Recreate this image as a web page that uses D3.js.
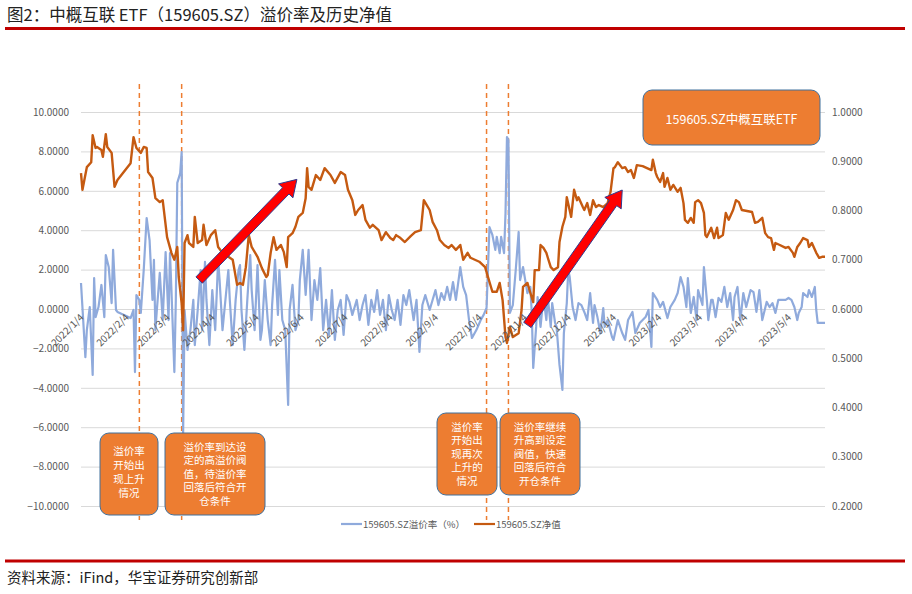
<!DOCTYPE html>
<html><head><meta charset="utf-8">
<script src="https://cdn.jsdelivr.net/npm/d3@7"></script>
<style>
body{margin:0;background:#fff;}
svg text{font-family:"Noto Sans CJK SC","Noto Sans",sans-serif;}
</style></head><body>
<svg id="c" width="912" height="594"></svg>
<script>
// ---------- data ----------
const navDates=["2022-01-04","2022-01-05","2022-01-08","2022-01-11","2022-01-12","2022-01-14","2022-01-15","2022-01-18","2022-01-19","2022-01-21","2022-01-22","2022-01-25","2022-01-27","2022-01-29","2022-02-07","2022-02-09","2022-02-11","2022-02-14","2022-02-16","2022-02-18","2022-02-19","2022-02-22","2022-02-24","2022-02-27","2022-03-01","2022-03-04","2022-03-07","2022-03-09","2022-03-11","2022-03-12","2022-03-14","2022-03-15","2022-03-16","2022-03-18","2022-03-19","2022-03-22","2022-03-23","2022-03-25","2022-03-28","2022-03-29","2022-03-31","2022-04-03","2022-04-06","2022-04-08","2022-04-11","2022-04-15","2022-04-18","2022-04-21","2022-04-23","2022-04-25","2022-04-27","2022-04-29","2022-05-01","2022-05-05","2022-05-08","2022-05-11","2022-05-12","2022-05-14","2022-05-16","2022-05-18","2022-05-21","2022-05-23","2022-05-25","2022-05-26","2022-05-29","2022-05-31","2022-06-02","2022-06-05","2022-06-07","2022-06-08","2022-06-09","2022-06-11","2022-06-14","2022-06-17","2022-06-20","2022-06-24","2022-06-27","2022-07-01","2022-07-04","2022-07-06","2022-07-09","2022-07-11","2022-07-13","2022-07-16","2022-07-18","2022-07-21","2022-07-23","2022-07-27","2022-07-29","2022-08-01","2022-08-04","2022-08-06","2022-08-08","2022-08-11","2022-08-14","2022-08-18","2022-08-21","2022-08-25","2022-08-27","2022-08-29","2022-08-31","2022-09-02","2022-09-05","2022-09-07","2022-09-10","2022-09-13","2022-09-15","2022-09-18","2022-09-21","2022-09-23","2022-09-26","2022-09-28","2022-10-04","2022-10-08","2022-10-10","2022-10-13","2022-10-16","2022-10-18","2022-10-20","2022-10-22","2022-10-23","2022-10-25","2022-10-27","2022-10-31","2022-11-02","2022-11-03","2022-11-06","2022-11-08","2022-11-10","2022-11-11","2022-11-14","2022-11-15","2022-11-17","2022-11-19","2022-11-20","2022-11-22","2022-11-24","2022-11-27","2022-11-28","2022-11-30","2022-12-02","2022-12-03","2022-12-06","2022-12-08","2022-12-10","2022-12-11","2022-12-14","2022-12-15","2022-12-17","2022-12-19","2022-12-21","2022-12-23","2022-12-25","2022-12-28","2022-12-31","2023-01-02","2023-01-04","2023-01-05","2023-01-07","2023-01-10","2023-01-12","2023-01-14","2023-01-16","2023-01-18","2023-01-20","2023-01-24","2023-01-27","2023-01-30","2023-01-31","2023-02-02","2023-02-03","2023-02-05","2023-02-07","2023-02-08","2023-02-10","2023-02-12","2023-02-14","2023-02-17","2023-02-19","2023-02-21","2023-02-22","2023-02-24","2023-02-26","2023-02-28","2023-03-01","2023-03-03","2023-03-05","2023-03-07","2023-03-08","2023-03-09","2023-03-12","2023-03-14","2023-03-16","2023-03-17","2023-03-20","2023-03-22","2023-03-24","2023-03-27","2023-03-29","2023-03-31","2023-04-02","2023-04-09","2023-04-11","2023-04-13","2023-04-16","2023-04-18","2023-04-20","2023-04-22","2023-04-24","2023-04-25","2023-04-28","2023-05-02","2023-05-04","2023-05-07","2023-05-08","2023-05-10","2023-05-12","2023-05-14","2023-05-17","2023-05-18","2023-05-20","2023-05-23","2023-05-25","2023-05-27","2023-05-29"];
const navValues=[0.876,0.842,0.888,0.898,0.953,0.927,0.929,0.923,0.909,0.955,0.929,0.917,0.848,0.862,0.896,0.949,0.927,0.917,0.929,0.927,0.878,0.866,0.825,0.817,0.821,0.746,0.714,0.700,0.726,0.665,0.612,0.557,0.734,0.750,0.734,0.726,0.787,0.734,0.740,0.771,0.730,0.750,0.760,0.726,0.714,0.706,0.700,0.649,0.653,0.649,0.685,0.750,0.726,0.706,0.683,0.665,0.669,0.714,0.746,0.720,0.730,0.716,0.685,0.746,0.754,0.767,0.787,0.795,0.825,0.886,0.848,0.842,0.872,0.862,0.886,0.872,0.856,0.878,0.872,0.842,0.821,0.791,0.801,0.811,0.781,0.765,0.771,0.760,0.740,0.756,0.744,0.740,0.750,0.744,0.736,0.748,0.756,0.760,0.821,0.811,0.801,0.777,0.760,0.740,0.730,0.724,0.730,0.720,0.730,0.700,0.714,0.704,0.696,0.685,0.665,0.635,0.635,0.653,0.618,0.543,0.531,0.564,0.543,0.551,0.598,0.645,0.653,0.633,0.614,0.679,0.679,0.730,0.724,0.714,0.704,0.685,0.679,0.685,0.736,0.767,0.787,0.827,0.787,0.842,0.821,0.827,0.807,0.801,0.815,0.791,0.821,0.807,0.811,0.807,0.815,0.838,0.886,0.888,0.898,0.886,0.888,0.878,0.882,0.866,0.892,0.890,0.886,0.882,0.903,0.876,0.868,0.858,0.876,0.848,0.866,0.842,0.852,0.838,0.846,0.815,0.781,0.775,0.785,0.775,0.817,0.821,0.815,0.795,0.750,0.746,0.765,0.744,0.765,0.744,0.750,0.795,0.781,0.801,0.821,0.817,0.801,0.797,0.775,0.777,0.785,0.754,0.746,0.744,0.720,0.734,0.730,0.724,0.726,0.714,0.706,0.726,0.734,0.744,0.740,0.726,0.734,0.714,0.704,0.706,0.706];

const premDates=["2022-01-04","2022-01-07","2022-01-08","2022-01-10","2022-01-12","2022-01-13","2022-01-14","2022-01-16","2022-01-18","2022-01-20","2022-01-21","2022-01-23","2022-01-25","2022-01-26","2022-01-28","2022-01-29","2022-02-07","2022-02-09","2022-02-10","2022-02-11","2022-02-13","2022-02-14","2022-02-16","2022-02-18","2022-02-20","2022-02-22","2022-02-23","2022-02-24","2022-02-25","2022-02-27","2022-03-01","2022-03-03","2022-03-05","2022-03-06","2022-03-07","2022-03-09","2022-03-10","2022-03-11","2022-03-13","2022-03-14","2022-03-15","2022-03-16","2022-03-18","2022-03-20","2022-03-22","2022-03-23","2022-03-25","2022-03-27","2022-03-28","2022-03-30","2022-03-31","2022-04-02","2022-04-04","2022-04-06","2022-04-08","2022-04-09","2022-04-11","2022-04-13","2022-04-15","2022-04-16","2022-04-18","2022-04-20","2022-04-22","2022-04-23","2022-04-24","2022-04-26","2022-04-28","2022-04-30","2022-05-01","2022-05-03","2022-05-05","2022-05-07","2022-05-08","2022-05-10","2022-05-12","2022-05-14","2022-05-15","2022-05-17","2022-05-19","2022-05-20","2022-05-22","2022-05-24","2022-05-26","2022-05-27","2022-05-29","2022-05-31","2022-06-02","2022-06-03","2022-06-05","2022-06-07","2022-06-09","2022-06-11","2022-06-13","2022-06-15","2022-06-17","2022-06-19","2022-06-21","2022-06-23","2022-06-25","2022-06-27","2022-06-29","2022-07-01","2022-07-03","2022-07-05","2022-07-07","2022-07-09","2022-07-12","2022-07-14","2022-07-16","2022-07-18","2022-07-20","2022-07-22","2022-07-24","2022-07-26","2022-07-28","2022-07-30","2022-08-01","2022-08-03","2022-08-05","2022-08-07","2022-08-09","2022-08-11","2022-08-13","2022-08-15","2022-08-17","2022-08-20","2022-08-22","2022-08-24","2022-08-26","2022-08-28","2022-08-31","2022-09-02","2022-09-04","2022-09-06","2022-09-08","2022-09-10","2022-09-12","2022-09-14","2022-09-16","2022-09-18","2022-09-21","2022-09-23","2022-09-25","2022-09-27","2022-09-29","2022-10-02","2022-10-05","2022-10-07","2022-10-09","2022-10-11","2022-10-13","2022-10-15","2022-10-16","2022-10-18","2022-10-19","2022-10-21","2022-10-22","2022-10-23","2022-10-24","2022-10-25","2022-10-27","2022-10-29","2022-10-31","2022-11-01","2022-11-03","2022-11-06","2022-11-08","2022-11-09","2022-11-10","2022-11-12","2022-11-13","2022-11-15","2022-11-17","2022-11-19","2022-11-20","2022-11-22","2022-11-23","2022-11-25","2022-11-26","2022-11-28","2022-11-30","2022-12-01","2022-12-03","2022-12-04","2022-12-05","2022-12-07","2022-12-09","2022-12-11","2022-12-13","2022-12-15","2022-12-17","2022-12-19","2022-12-21","2022-12-22","2022-12-24","2022-12-26","2022-12-28","2022-12-29","2022-12-31","2023-01-03","2023-01-04","2023-01-07","2023-01-10","2023-01-12","2023-01-14","2023-01-17","2023-01-19","2023-01-22","2023-01-26","2023-01-28","2023-01-30","2023-01-31","2023-02-03","2023-02-05","2023-02-07","2023-02-10","2023-02-12","2023-02-15","2023-02-17","2023-02-19","2023-02-21","2023-02-23","2023-02-24","2023-02-26","2023-02-28","2023-03-02","2023-03-03","2023-03-06","2023-03-07","2023-03-09","2023-03-10","2023-03-12","2023-03-13","2023-03-15","2023-03-17","2023-03-19","2023-03-21","2023-03-23","2023-03-25","2023-03-27","2023-03-28","2023-03-30","2023-04-01","2023-04-03","2023-04-05","2023-04-08","2023-04-10","2023-04-12","2023-04-14","2023-04-16","2023-04-19","2023-04-21","2023-04-23","2023-04-25","2023-04-27","2023-05-02","2023-05-04","2023-05-06","2023-05-08","2023-05-10","2023-05-11","2023-05-13","2023-05-14","2023-05-17","2023-05-18","2023-05-20","2023-05-22","2023-05-23","2023-05-24","2023-05-29"];
const premValues=[1.32,-2.44,-1.07,0.10,-3.35,1.57,-0.41,0.10,1.22,-0.41,2.74,2.13,0.30,3.00,-0.05,-0.15,-0.46,-0.05,-3.20,0.71,0.46,-0.20,1.98,4.62,3.50,0.46,2.49,-1.07,-0.05,1.83,-0.56,2.89,-0.56,2.84,0.96,-3.20,0.46,6.40,6.90,7.97,-6.40,-0.05,-2.08,-1.07,0.46,-1.83,-0.05,1.98,-1.07,2.39,0.46,-1.83,0.96,-1.07,2.49,1.47,-1.07,0.46,1.98,0.46,-1.83,0.46,1.98,2.23,-0.05,-2.08,0.46,2.74,0.96,-1.07,2.23,-1.57,-1.07,1.47,-0.56,-1.83,0.20,2.49,-0.30,1.98,-0.56,-1.07,-4.87,-0.05,1.22,-1.07,-0.56,1.47,3.00,0.71,3.00,-0.56,1.47,0.46,2.08,-1.07,0.46,-1.32,0.96,-1.57,-0.05,0.46,-1.32,0.71,0.36,-0.30,0.46,-0.56,0.20,0.71,-0.81,0.46,-0.15,0.96,-0.30,0.46,-1.07,0.71,-0.05,-0.56,0.46,-0.81,0.71,0.20,0.96,-0.56,0.46,-2.18,0.20,0.71,-0.05,0.46,0.96,0.20,0.81,0.46,1.12,0.46,1.37,0.46,2.13,1.12,0.71,-0.56,-1.47,-1.07,-0.56,-0.30,0.05,4.16,3.76,3.00,3.66,2.84,3.66,2.84,4.87,8.73,8.58,-0.20,0.20,1.98,3.91,1.47,2.13,0.81,1.12,-0.20,-2.99,-0.91,0.61,-0.91,0.61,-0.56,0.61,-0.91,0.30,-0.71,-0.91,-2.84,-4.11,-1.22,0.30,1.98,1.62,0.10,-0.56,0.30,0.20,-0.15,-0.56,0.81,-0.71,0.20,-0.41,-1.22,0.05,-0.91,-0.56,-1.42,-1.57,-0.56,-1.22,-1.57,-0.56,-0.15,-1.22,-0.71,-0.41,-0.05,-1.93,0.81,0.46,0.10,0.36,-0.46,0.10,0.46,0.81,1.62,1.12,0.10,1.57,-0.20,0.61,-0.56,0.96,0.20,2.13,0.46,-0.56,0.46,0.46,-0.41,0.56,0.36,1.12,0.10,0.81,-0.56,0.61,1.12,-0.56,0.81,0.10,0.96,0.86,-0.15,0.96,-0.56,0.36,0.10,0.30,-0.20,0.46,0.46,0.56,0.46,0.10,-0.56,-0.20,0.10,0.81,0.61,0.96,0.61,1.12,-0.05,-0.70,-0.70];

const leftTicks=[-10,-8,-6,-4,-2,0,2,4,6,8,10];
const rightTicks=[0.2,0.3,0.4,0.5,0.6,0.7,0.8,0.9,1.0];
const xTickDates=["2022-01-04","2022-02-04","2022-03-04","2022-04-04","2022-05-04","2022-06-04","2022-07-04","2022-08-04","2022-09-04","2022-10-04","2022-11-04","2022-12-04","2023-01-04","2023-02-04","2023-03-04","2023-04-04","2023-05-04"];
const xDomain=["2022-01-04","2023-05-29"];
const eventDates=["2022-02-13","2022-03-14","2022-10-09","2022-10-24"];
const arrowFrom=[["2022-03-26",1.47],["2022-11-06",-0.81]];
const arrowTo=[["2022-06-01",6.58],["2023-01-10",6.04]];
const seriesNames=["159605.SZ溢价率（%）","159605.SZ净值"];
const notes=[
  ["溢价率","开始出","现上升","情况"],
  ["溢价率到达设","定的高溢价阀","值，待溢价率","回落后符合开","仓条件"],
  ["溢价率","开始出","现再次","上升的","情况"],
  ["溢价率继续","升高到设定","阀值，快速","回落后符合","开仓条件"]
];
const titleText="图2：中概互联 ETF（159605.SZ）溢价率及历史净值";
const sourceText="资料来源：iFind，华宝证券研究创新部";
const badgeText="159605.SZ中概互联ETF";

// ---------- drawing ----------
const parse=d3.timeParse("%Y-%m-%d");
const svg=d3.select("#c");
const L=81,R=825,T=112,B=506;
const x=d3.scaleTime().domain(xDomain.map(parse)).range([L,R]);
const yL=d3.scaleLinear().domain([-10,10]).range([B,T]);
const yR=d3.scaleLinear().domain([0.2,1.0]).range([B,T]);

// title
svg.append("text").attr("x",7).attr("y",21).attr("font-size",16.5).attr("fill","#222").text(titleText);
svg.append("rect").attr("x",5).attr("y",27).attr("width",900).attr("height",3).attr("fill","#C00000");
svg.append("rect").attr("x",5).attr("y",559.5).attr("width",900).attr("height",3).attr("fill","#C00000");
svg.append("text").attr("x",7).attr("y",583).attr("font-size",14.5).attr("fill","#222").text(sourceText);

// gridlines
const grid=svg.append("g").attr("transform",`translate(${L},0)`)
  .call(d3.axisLeft(yL).tickValues(leftTicks).tickSize(-(R-L)).tickFormat(""));
grid.select(".domain").remove();
grid.selectAll("line").attr("stroke","#D9D9D9").attr("stroke-width",1);

// left axis labels
const ax=svg.append("g").attr("transform",`translate(${L},0)`)
  .call(d3.axisLeft(yL).tickValues(leftTicks).tickSize(0).tickPadding(12).tickFormat(d3.format(".4f")));
ax.select(".domain").remove();
ax.selectAll("text").attr("font-size",10).attr("fill","#595959").attr("font-family","Noto Sans CJK SC");

// right axis labels
const ar=svg.append("g").attr("transform",`translate(${R},0)`)
  .call(d3.axisRight(yR).tickValues(rightTicks).tickSize(0).tickPadding(7).tickFormat(d3.format(".4f")));
ar.select(".domain").remove();
ar.selectAll("text").attr("font-size",10).attr("fill","#595959").attr("font-family","Noto Sans CJK SC");

// event dashed lines
svg.append("g").selectAll("line").data(eventDates).join("line")
  .attr("x1",d=>x(parse(d))).attr("x2",d=>x(parse(d)))
  .attr("y1",84).attr("y2",520)
  .attr("stroke","#ED7D31").attr("stroke-width",1.5).attr("stroke-dasharray","5,4");

// series lines
const prem=premDates.map((d,i)=>({date:parse(d),v:premValues[i]}));
const nav=navDates.map((d,i)=>({date:parse(d),v:navValues[i]}));
svg.append("path").datum(prem).attr("fill","none").attr("stroke","#8FAADC").attr("stroke-width",2.2)
  .attr("stroke-linejoin","round").attr("d",d3.line().x(d=>x(d.date)).y(d=>yL(d.v)));
svg.append("path").datum(nav).attr("fill","none").attr("stroke","#C55A11").attr("stroke-width",2.4)
  .attr("stroke-linejoin","round").attr("d",d3.line().x(d=>x(d.date)).y(d=>yR(d.v)));

// x axis labels
const xa=svg.append("g").attr("transform",`translate(0,${yL(0)})`)
  .call(d3.axisBottom(x).tickValues(xTickDates.map(parse)).tickSize(0).tickFormat(d3.timeFormat("%Y/%-m/%-d")));
xa.select(".domain").remove();
xa.selectAll("text").attr("font-size",10).attr("fill","#595959")
  .attr("text-anchor","end").attr("dy",0).attr("y",0)
  .attr("transform","translate(3,9) rotate(-45)");

// arrows
arrowFrom.forEach((f,i)=>{
  const t=arrowTo[i];
  const p0=[x(parse(f[0])),yL(f[1])], p1=[x(parse(t[0])),yL(t[1])];
  const dx=p1[0]-p0[0], dy=p1[1]-p0[1], len=Math.hypot(dx,dy);
  const u=[dx/len,dy/len], n=[-u[1],u[0]];
  const w=4.5, hw=10, hl=16;
  const b=[p1[0]-u[0]*hl,p1[1]-u[1]*hl];
  const pts=[[p0[0]+n[0]*w,p0[1]+n[1]*w],[b[0]+n[0]*w,b[1]+n[1]*w],[b[0]+n[0]*hw,b[1]+n[1]*hw],p1,
    [b[0]-n[0]*hw,b[1]-n[1]*hw],[b[0]-n[0]*w,b[1]-n[1]*w],[p0[0]-n[0]*w,p0[1]-n[1]*w]];
  svg.append("path").attr("d","M"+pts.map(p=>p.join(",")).join("L")+"Z")
    .attr("fill","#FF0000").attr("stroke","#2F3B8F").attr("stroke-width",1);
});

// annotation boxes
const boxes=[{x:100,y:433,w:58,h:82,t0:450,dy:14,fs:10.5},{x:165,y:433,w:100,h:82,t0:446,dy:13.6,fs:10.5},
  {x:437,y:413,w:60,h:82,t0:426,dy:13.6,fs:10.5},{x:500,y:413,w:80,h:82,t0:426,dy:13.6,fs:10.5}];
boxes.forEach((b,i)=>{
  svg.append("rect").attr("x",b.x).attr("y",b.y).attr("width",b.w).attr("height",b.h).attr("rx",9)
    .attr("fill","#ED7D31").attr("stroke","#41719C").attr("stroke-width",1);
  notes[i].forEach((s,j)=>{
    svg.append("text").attr("x",b.x+b.w/2).attr("y",b.t0+j*b.dy).attr("dominant-baseline","central")
      .attr("text-anchor","middle").attr("font-size",b.fs).attr("fill","#fff").text(s);
  });
});
svg.append("rect").attr("x",643).attr("y",90).attr("width",177).attr("height",55).attr("rx",9)
  .attr("fill","#ED7D31").attr("stroke","#41719C").attr("stroke-width",1);
svg.append("text").attr("x",731.5).attr("y",118).attr("dominant-baseline","central").attr("text-anchor","middle")
  .attr("font-size",12.5).attr("fill","#fff").text(badgeText);

// legend
const lg=[{x:341,c:"#8FAADC"},{x:474,c:"#C55A11"}];
lg.forEach((l,i)=>{
  svg.append("line").attr("x1",l.x).attr("x2",l.x+21).attr("y1",524).attr("y2",524).attr("stroke",l.c).attr("stroke-width",2.2);
  svg.append("text").attr("x",l.x+22).attr("y",524).attr("dominant-baseline","central").attr("font-size",9.5)
    .attr("fill","#595959").text(seriesNames[i]);
});
</script>
</body></html>
